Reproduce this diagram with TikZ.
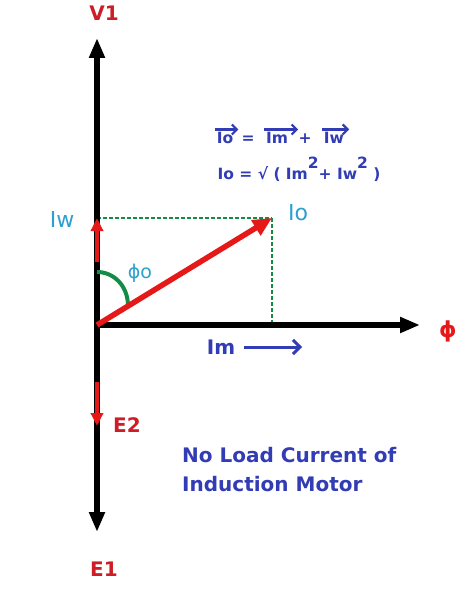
\documentclass[tikz,border=0pt]{standalone}
\usepackage{fontspec}
\setmainfont{DejaVu Sans}
\usetikzlibrary{arrows.meta}
\definecolor{axred}{RGB}{205,30,40}
\definecolor{vecred}{RGB}{230,25,25}
\definecolor{lblue}{RGB}{45,160,210}
\definecolor{dblue}{RGB}{50,60,180}
\definecolor{dgreen}{RGB}{20,140,70}
\tikzset{
  axis/.style={line width=5.5pt,black,-{Triangle[width=15pt,length=20pt]}},
  redvec/.style={line width=5.5pt,vecred,-{Triangle[width=17pt,length=19pt]}},
  smallred/.style={vecred,line width=4pt,-{Triangle[width=12pt,length=13pt]}},
  guide/.style={dgreen,line width=2.2pt,dash pattern=on 3.5pt off 2.5pt},
  lbl/.style={inner sep=0pt,font=\bfseries\fontsize{20}{24}\selectfont},
  flbl/.style={inner sep=0pt,anchor=base,dblue,font=\bfseries\fontsize{15.5}{18}\selectfont},
  ovarrow/.style={dblue,line width=2.2pt,-{Straight Barb[length=5pt,width=10pt,line width=2.2pt]}},
}
\begin{document}
\begin{tikzpicture}[x=1pt,y=-1pt]
\useasboundingbox (0,0) rectangle (474,612);
\fill[white] (0,0) rectangle (474,612);
\coordinate (O) at (97,325);
\coordinate (top) at (97,38);
\coordinate (bot) at (97,532);
\coordinate (right) at (420,325);
\coordinate (P) at (272,218);
\coordinate (W) at (97,218);
\coordinate (M) at (272,325);
\coordinate (w0) at (97,262);
\coordinate (w1) at (97,218);
\coordinate (e0) at (97,382);
\coordinate (e1) at (97,426);
\coordinate (a0) at (97,272);
\coordinate (a1) at (128,306);
\coordinate (m0) at (244,347);
\coordinate (m1) at (302,347);
% guides
\draw[guide] (W) -- (P);
\draw[guide] (P) -- (M);
% axes
\draw[axis] (O) -- (top);
\draw[axis] (O) -- (bot);
\draw[axis] (O) -- (right);
% angle
\draw[dgreen,line width=4pt] (a0) .. controls (114,272) and (128,286) .. (a1);
% red vectors
\draw[redvec] (O) -- (P);
\draw[smallred] (w0) -- (w1);
\draw[smallred] (e0) -- (e1);
% Im arrow
\draw[dblue,line width=3pt,-{Straight Barb[length=7pt,width=14pt,line width=3pt]}] (m0) -- (m1);
% labels
\node[lbl,axred] (V1) at (104,13) {V1};
\node[lbl,axred] (E1) at (104,569) {E1};
\node[lbl,axred] (E2) at (127,425) {E2};
\node[lbl,vecred,font=\bfseries\fontsize{22}{24}\selectfont] (phi) at (448,331) {ϕ};
\node[lbl,lblue,font=\fontsize{22}{24}\selectfont] (Iw) at (62,219) {Iw};
\node[lbl,lblue,font=\fontsize{22}{24}\selectfont] (Io) at (298,213) {Io};
\node[lbl,lblue,font=\fontsize{19}{22}\selectfont] (phio) at (140,273) {ϕo};
\node[lbl,dblue] (Im) at (221,347) {Im};
% formula line 1
\node[flbl] (fIo) at (225,144) {Io};
\node[flbl] (feq) at (248,144) {=};
\node[flbl] (fIm) at (277,144) {Im};
\node[flbl] (fpl) at (305,144) {+};
\node[flbl] (fIw) at (334,144) {Iw};
\draw[ovarrow] ([xshift=-2pt,yshift=3pt]fIo.north west) -- ([xshift=5pt,yshift=3pt]fIo.north east);
\draw[ovarrow] ([xshift=-2pt,yshift=3pt]fIm.north west) -- ([xshift=10pt,yshift=3pt]fIm.north east);
\draw[ovarrow] ([xshift=-2pt,yshift=3pt]fIw.north west) -- ([xshift=5pt,yshift=3pt]fIw.north east);
% formula line 2
\node[flbl] (f2) at (299,180)
  {Io = √ ( Im\raisebox{11pt}{2}+ Iw\raisebox{11pt}{2} )};
\node[lbl,dblue,anchor=west] (t1) at (182,455) {No Load Current of};
\node[lbl,dblue,anchor=west] (t2) at (182,484) {Induction Motor};
\end{tikzpicture}
\end{document}
